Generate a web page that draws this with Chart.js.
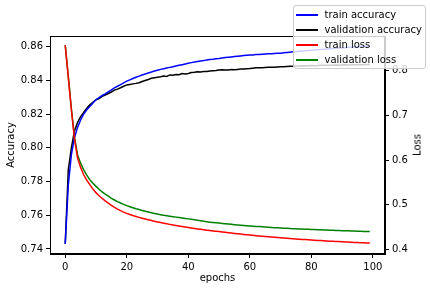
<!DOCTYPE html>
<html>
<head>
<meta charset="utf-8">
<script src="https://cdn.jsdelivr.net/npm/chart.js@4.4.0/dist/chart.umd.min.js"></script>
<style>
  html, body { margin: 0; padding: 0; background: #fff; overflow: hidden; }
  #wrap { position: relative; width: 430px; height: 292px; font-family: 'DejaVu Sans', sans-serif; }
  #c { position: absolute; left: 0; top: 0; }
  #legend { position: absolute; left: 292.5px; top: 5px; width: 133.5px; height: 63.5px; box-sizing: border-box;
            border: 1px solid #cccccc; border-radius: 3px; background: rgba(255,255,255,0.8); }
  .row { position: absolute; left: 0; height: 15px; width: 100%; }
  .row .ln { position: absolute; left: 2.5px; width: 21.5px; height: 1.5px; top: 7px; }
  .row .tx { position: absolute; left: 31px; top: 0; font-size: 10px; line-height: 15px; color: #000; white-space: nowrap; }
  #lossTitle { position: absolute; left: 416.5px; top: 145px; font-size: 10px; color: #000;
               transform: translate(-50%, -50%) rotate(-90deg); white-space: nowrap; }
</style>
</head>
<body>
<div id="wrap">
  <canvas id="c" width="430" height="292"></canvas>
  <div id="legend"></div>
  <div id="lossTitle">Loss</div>
</div>
<script>
// ---- data ----
const epochs = Array.from({ length: 100 }, (_, i) => i);

const trainAccuracy = [
  0.743, 0.778, 0.796, 0.806, 0.812, 0.8165, 0.820, 0.8225, 0.8245, 0.8265,
  0.8285, 0.8298, 0.831, 0.832, 0.8332, 0.8343, 0.8355, 0.8365, 0.8375, 0.8385,
  0.8395, 0.8403, 0.8411, 0.8418, 0.8425, 0.8432, 0.8438, 0.8444, 0.8449, 0.8455,
  0.846, 0.8465, 0.8469, 0.8473, 0.8477, 0.8481, 0.8485, 0.8489, 0.8493, 0.8497,
  0.8501, 0.8505, 0.8509, 0.8512, 0.8515, 0.8517, 0.852, 0.8523, 0.8525, 0.8528,
  0.853, 0.8533, 0.8535, 0.8537, 0.8539, 0.8541, 0.8543, 0.8545, 0.8547, 0.8549,
  0.855, 0.8551, 0.8553, 0.8554, 0.8555, 0.8556, 0.8557, 0.8558, 0.8559, 0.856,
  0.8561, 0.8563, 0.8565, 0.8567, 0.8569, 0.857, 0.8572, 0.8574, 0.8576, 0.8577,
  0.8579, 0.858, 0.8582, 0.8583, 0.8585, 0.8586, 0.8588, 0.8589, 0.859, 0.8592,
  0.8593, 0.8594, 0.8596, 0.8597, 0.8598, 0.8599, 0.86, 0.8601, 0.8602, 0.8603
];

const validationAccuracy = [
  0.743, 0.787, 0.800, 0.810, 0.815, 0.8185, 0.821, 0.8235, 0.8255, 0.827,
  0.8285, 0.8292, 0.8305, 0.8313, 0.8322, 0.8331, 0.8342, 0.8348, 0.8356, 0.8365,
  0.8373, 0.8376, 0.8379, 0.8382, 0.8386, 0.8393, 0.8399, 0.8405, 0.8412, 0.8415,
  0.8418, 0.8421, 0.8425, 0.8423, 0.8432, 0.8430, 0.8434, 0.8433, 0.8440, 0.8438,
  0.8441, 0.8446, 0.8448, 0.8451, 0.8450, 0.8452, 0.8453, 0.8455, 0.8457, 0.8458,
  0.8461, 0.8463, 0.8461, 0.8462, 0.8464, 0.8463, 0.8465, 0.8467, 0.8468, 0.8469,
  0.8470, 0.8472, 0.8474, 0.8475, 0.8474, 0.8476, 0.8477, 0.8478, 0.8477, 0.8479,
  0.8481, 0.8480, 0.8482, 0.8484, 0.8483, 0.8484, 0.8485, 0.8486, 0.8485, 0.8487,
  0.8488, 0.8487, 0.8488, 0.8489, 0.8489, 0.8490, 0.8489, 0.8490, 0.8491, 0.8490,
  0.8491, 0.8492, 0.8491, 0.8492, 0.8493, 0.8492, 0.8493, 0.8493, 0.8494, 0.8494
];

const trainLoss = [
  0.857, 0.785, 0.712, 0.648, 0.605, 0.583, 0.567, 0.555, 0.545, 0.535,
  0.527, 0.52, 0.514, 0.5085, 0.5035, 0.4985, 0.494, 0.4902, 0.4866, 0.4833,
  0.4805, 0.4781, 0.4758, 0.4737, 0.4717, 0.4698, 0.468, 0.4662, 0.4645, 0.4629,
  0.4614, 0.46, 0.4586, 0.4573, 0.456, 0.4547, 0.4535, 0.4523, 0.4512, 0.4501,
  0.449, 0.4479, 0.4469, 0.4459, 0.4449, 0.444, 0.4431, 0.4423, 0.4414, 0.4406,
  0.4398, 0.439, 0.4382, 0.4374, 0.4366, 0.4358, 0.435, 0.4342, 0.4334, 0.4327,
  0.432, 0.4314, 0.4308, 0.4302, 0.4296, 0.429, 0.4284, 0.4278, 0.4272, 0.4266,
  0.426, 0.4255, 0.425, 0.4244, 0.4239, 0.4234, 0.4229, 0.4224, 0.4219, 0.4214,
  0.4209, 0.4205, 0.4201, 0.4197, 0.4193, 0.4189, 0.4185, 0.4181, 0.4178, 0.4174,
  0.4171, 0.4167, 0.4164, 0.4161, 0.4157, 0.4154, 0.4151, 0.4148, 0.4145, 0.4142
];

const validationLoss = [
  0.857, 0.787, 0.715, 0.652, 0.612, 0.593, 0.578, 0.566, 0.556, 0.548,
  0.541, 0.5345, 0.5288, 0.5237, 0.5192, 0.514, 0.5105, 0.507, 0.5038, 0.5008,
  0.498, 0.4956, 0.4933, 0.4911, 0.4891, 0.4871, 0.4853, 0.4836, 0.482, 0.4804,
  0.479, 0.4776, 0.4763, 0.4753, 0.4742, 0.4732, 0.4722, 0.4713, 0.4703, 0.4693,
  0.4683, 0.4672, 0.4661, 0.465, 0.4639, 0.4629, 0.4619, 0.461, 0.4602, 0.4595,
  0.4588, 0.4581, 0.4574, 0.4567, 0.456, 0.4553, 0.4547, 0.4541, 0.4535, 0.453,
  0.4525, 0.452, 0.4515, 0.451, 0.4505, 0.45, 0.4495, 0.4491, 0.4487, 0.4483,
  0.4479, 0.4475, 0.4471, 0.4467, 0.4464, 0.4461, 0.4458, 0.4455, 0.4452, 0.4449,
  0.4446, 0.4443, 0.444, 0.4437, 0.4434, 0.4432, 0.443, 0.4427, 0.4425, 0.4422,
  0.442, 0.4417, 0.4415, 0.4412, 0.441, 0.4408, 0.4406, 0.4403, 0.4401, 0.4399
];

const xTicks = [0, 20, 40, 60, 80, 100];
const accuracyTicks = [0.74, 0.76, 0.78, 0.80, 0.82, 0.84, 0.86];
const lossTicks = [0.4, 0.5, 0.6, 0.7, 0.8];

const seriesLabels = ['train accuracy', 'validation accuracy', 'train loss', 'validation loss'];
const seriesColors = ['#0000ff', '#000000', '#ff0000', '#008000'];

// ---- chart ----
const FONT = { family: "'DejaVu Sans', sans-serif", size: 10 };
const pts = arr => epochs.map((e, i) => ({ x: e, y: arr[i] }));
const seriesData = [trainAccuracy, validationAccuracy, trainLoss, validationLoss];
const seriesAxis = ['yAcc', 'yAcc', 'yLoss', 'yLoss'];

const datasets = seriesData.map((arr, i) => ({
  label: seriesLabels[i],
  data: pts(arr),
  yAxisID: seriesAxis[i],
  borderColor: seriesColors[i],
  backgroundColor: seriesColors[i],
  borderWidth: 1.5,
  pointRadius: 0,
  tension: 0,
  fill: false,
  order: seriesAxis[i] === 'yLoss' ? 0 : 1
}));

const frame = {
  id: 'frame',
  afterDatasetsDraw(chart) {
    const a = chart.chartArea, ctx = chart.ctx;
    ctx.save();
    ctx.strokeStyle = '#000';
    ctx.lineWidth = 1;
    ctx.strokeRect(Math.round(a.left) + 0.5, Math.round(a.top) + 0.5,
                   Math.round(a.right - a.left) - 1, Math.round(a.bottom - a.top) - 1);
    ctx.restore();
  }
};

const tickSetter = arr => scale => { scale.ticks = arr.map(v => ({ value: v })); };

new Chart(document.getElementById('c'), {
  type: 'line',
  data: { datasets },
  plugins: [frame],
  options: {
    responsive: false,
    devicePixelRatio: 1,
    animation: false,
    layout: { padding: { top: 36, left: 0, right: 0, bottom: 0 } },
    plugins: { legend: { display: false }, tooltip: { enabled: false } },
    scales: {
      x: {
        type: 'linear', position: 'bottom', min: -4.95, max: 103.95,
        afterBuildTicks: tickSetter(xTicks),
        afterFit: s => { s.height = 38; },
        grid: { drawOnChartArea: false, drawTicks: true, tickLength: 4, color: '#000', lineWidth: 1 },
        border: { display: true, color: '#000' },
        ticks: { font: FONT, color: '#000', padding: 3, maxRotation: 0, callback: v => String(v) },
        title: { display: true, text: 'epochs', font: FONT, color: '#000', padding: { top: 0, bottom: 8 } }
      },
      yAcc: {
        type: 'linear', position: 'left', min: 0.737, max: 0.8663,
        afterBuildTicks: tickSetter(accuracyTicks),
        afterFit: s => { s.width = 50; },
        grid: { drawOnChartArea: false, drawTicks: true, tickLength: 4, color: '#000', lineWidth: 1 },
        border: { display: true, color: '#000' },
        ticks: { font: FONT, color: '#000', padding: 3, callback: v => Number(v).toFixed(2) },
        title: { display: true, text: 'Accuracy', font: FONT, color: '#000', padding: { top: 5, bottom: 0 } }
      },
      yLoss: {
        type: 'linear', position: 'right', min: 0.3897, max: 0.8775,
        afterBuildTicks: tickSetter(lossTicks),
        afterFit: s => { s.width = 45; },
        grid: { drawOnChartArea: false, drawTicks: true, tickLength: 4, color: '#000', lineWidth: 1 },
        border: { display: true, color: '#000' },
        ticks: { font: FONT, color: '#000', padding: 3, callback: v => Number(v).toFixed(1) }
      }
    }
  }
});

// ---- legend (HTML, built from the series arrays) ----
const legend = document.getElementById('legend');
seriesLabels.forEach((lab, i) => {
  const row = document.createElement('div');
  row.className = 'row';
  row.style.top = (1 + i * 15) + 'px';
  const ln = document.createElement('div');
  ln.className = 'ln';
  ln.style.background = seriesColors[i];
  const tx = document.createElement('div');
  tx.className = 'tx';
  tx.textContent = lab;
  row.appendChild(ln); row.appendChild(tx);
  legend.appendChild(row);
});
</script>
</body>
</html>
